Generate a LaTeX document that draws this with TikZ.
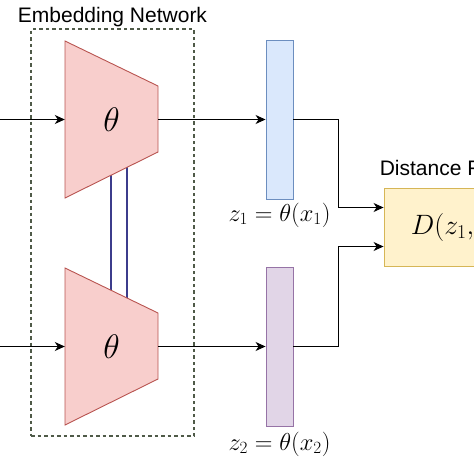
\documentclass[tikz,border=0pt]{standalone}
\usepackage{fix-cm}
\usepackage{fontspec}
\newfontfamily\rotulofont{Liberation Sans}
\usetikzlibrary{positioning,arrows.meta,backgrounds}
\definecolor{rosafundo}{HTML}{F8CECC}
\definecolor{rosaborda}{HTML}{B85450}
\definecolor{azulfundo}{HTML}{DAE8FC}
\definecolor{azulborda}{HTML}{6C8EBF}
\definecolor{roxofundo}{HTML}{E1D5E7}
\definecolor{roxoborda}{HTML}{9673A6}
\definecolor{amarelofundo}{HTML}{FFF2CC}
\definecolor{amareloborda}{HTML}{D6B656}
\definecolor{cinzaverde}{HTML}{4F5A48}
\definecolor{anil}{HTML}{3C3C8C}
\begin{document}
\begin{tikzpicture}[
  x=1pt, y=-1pt,
  every node/.style={inner sep=0pt},
  seta/.style={-{Stealth[length=10pt,width=9pt,inset=3pt]}, line width=1.2pt}
]
\tikzset{
  rosa/.style={draw=rosaborda, fill=rosafundo, line width=0.9pt},
  azul/.style={draw=azulborda, fill=azulfundo, line width=0.9pt, minimum width=27pt, minimum height=159pt},
  roxo/.style={draw=roxoborda, fill=roxofundo, line width=0.9pt, minimum width=27pt, minimum height=159pt},
  amarelo/.style={draw=amareloborda, fill=amarelofundo, line width=0.9pt, minimum width=154pt, minimum height=78pt},
  tracejado/.style={draw=cinzaverde, dash pattern=on 3.5pt off 3pt, line width=1.3pt, minimum width=163pt, minimum height=407pt},
  ligacao/.style={draw=anil, line width=1.2pt},
  rotulo/.style={font=\rotulofont\fontsize{21}{25}\selectfont},
  funcao/.style={minimum width=93pt, minimum height=66pt, font=\fontsize{34}{40}\selectfont},
  formula/.style={font=\fontsize{24.5}{29}\selectfont}
}
\useasboundingbox (0,0) rectangle (474,474);
% rede de embedding
\node[tracejado] (rede) at (112.5,232.5) {};
\node[rotulo, anchor=base] (trede) at ([yshift=6pt]rede.north) {Embedding Network};
\filldraw[rosa] (65,41) -- (158,86) -- (158,152) -- (65,198) -- cycle;
\node[funcao] (f1) at (111.5,119.5) {$\theta$};
\filldraw[rosa] (65,268) -- (158,313) -- (158,379) -- (65,425) -- cycle;
\node[funcao] (f2) at (111.5,346.5) {$\theta$};
\begin{scope}[on background layer]
  \draw[ligacao] ([xshift=-0.5pt]f1.south) -- ([xshift=-0.5pt]f2.north);
  \draw[ligacao] ([xshift=15.5pt]f1.south) -- ([xshift=15.5pt]f2.north);
\end{scope}
% vetores
\node[azul] (b1) at (279.5,119.5) {};
\node[roxo] (b2) at (279.5,346.5) {};
\node[formula, below=3pt of b1] (z1) {$z_1 = \theta(x_1)$};
\node[formula, below=5pt of b2] (z2) {$z_2 = \theta(x_2)$};
% distancia
\node[amarelo, font=\fontsize{28}{34}\selectfont] (dist) at (461,227) {$D(z_1, z_2)$};
\node[rotulo, anchor=base west] (tdist) at ([xshift=-4pt, yshift=12pt]dist.north west) {Distance Function};
% setas
\coordinate (e1) at (0,119.5);
\coordinate (e2) at (0,346.5);
\draw[seta] (e1) -- (f1.west);
\draw[seta] (e2) -- (f2.west);
\draw[seta] (f1.east) -- (b1.west);
\draw[seta] (f2.east) -- (b2.west);
\draw[seta] (b1.east) -- ++(45,0) |- ([yshift=19.5pt]dist.west);
\draw[seta] (b2.east) -- ++(45,0) |- ([yshift=-19.5pt]dist.west);
\end{tikzpicture}
\end{document}
